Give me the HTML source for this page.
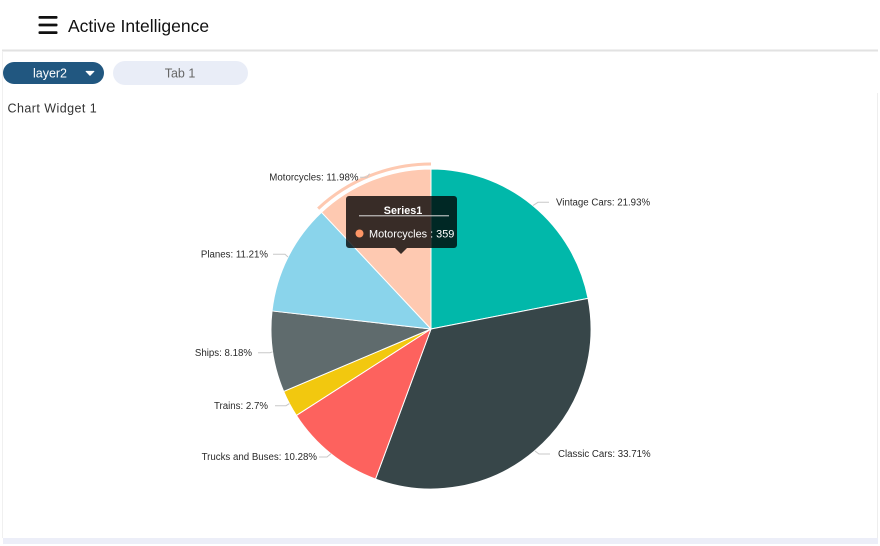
<!DOCTYPE html>
<html><head><meta charset="utf-8"><style>
html,body{margin:0;padding:0;background:#fff;width:880px;height:546px;overflow:hidden;font-family:"Liberation Sans",sans-serif;}
svg{display:block}
</style></head><body>
<svg width="880" height="546" viewBox="0 0 880 546" xmlns="http://www.w3.org/2000/svg" font-family="Liberation Sans, sans-serif">
  <rect width="880" height="546" fill="#fff"/>
  <!-- header -->
  <rect x="38.5" y="16" width="19" height="2.8" rx="1" fill="#111"/>
  <rect x="38.5" y="23.6" width="19" height="2.8" rx="1" fill="#111"/>
  <rect x="38.5" y="31.2" width="19" height="2.8" rx="1" fill="#111"/>
  <text x="68" y="32" font-size="17.5" fill="#111">Active Intelligence</text>
  <rect x="2" y="49.5" width="876" height="2" fill="#e2e2e2"/>
  <!-- widget borders -->
  <rect x="2" y="52" width="1" height="486" fill="#f0f0f0"/>
  <rect x="877" y="93" width="1" height="445" fill="#eeeeee"/>
  <rect x="3" y="538" width="875" height="6" fill="#eceef8"/>
  <!-- tabs -->
  <rect x="3" y="62" width="101" height="22" rx="11" fill="#215780"/>
  <text x="50" y="77.5" font-size="12.5" fill="#fff" text-anchor="middle">layer2</text>
  <path d="M86 71.3 L94 71.3 L90 75.5 Z" fill="#fff" stroke="#fff" stroke-width="0.8" stroke-linejoin="round"/>
  <rect x="113" y="61" width="135" height="24" rx="12" fill="#e9edf7"/>
  <text x="180" y="77.5" font-size="12.5" fill="#666" text-anchor="middle">Tab 1</text>
  <text x="7.5" y="112.3" font-size="12.5" fill="#333" letter-spacing="0.45">Chart Widget 1</text>

  <!-- pie -->
  <g stroke="#fff" stroke-width="1" stroke-linejoin="round">
    <path d="M431 329 L431 169 A160 160 0 0 1 588.03 298.33 Z" fill="#01b8aa"/>
    <path d="M431 329 L588.03 298.33 A160 160 0 0 1 375.49 479.06 Z" fill="#374649"/>
    <path d="M431 329 L375.49 479.06 A160 160 0 0 1 296.36 415.44 Z" fill="#fd625e"/>
    <path d="M431 329 L296.36 415.44 A160 160 0 0 1 283.68 391.44 Z" fill="#f2c80f"/>
    <path d="M431 329 L283.68 391.44 A160 160 0 0 1 272.02 310.94 Z" fill="#5f6b6d"/>
    <path d="M431 329 L272.02 310.94 A160 160 0 0 1 321.56 212.28 Z" fill="#8ad4eb"/>
    <path d="M431 329 L321.56 212.28 A160 160 0 0 1 431 169 Z" fill="#fec9b1"/>
  </g>
  <path d="M318.14 208.64 A165 165 0 0 1 431 164" fill="none" stroke="#fec9b1" stroke-width="3"/>

  <!-- leader lines -->
  <g fill="none" stroke="#c8c8c8" stroke-width="1">
    <polyline points="533,205.5 538,202.3 549,202.3"/>
    <polyline points="535,451 539,454 550,454"/>
    <polyline points="331,453.6 327,457 319,457"/>
    <polyline points="289.4,403.6 286,405.7 275,405.7"/>
    <polyline points="272.6,351.8 270,352.7 258,352.7"/>
    <polyline points="288,257 285,254.3 273,254.3"/>
    <polyline points="369.5,173.7 367,177.3 360,177.3"/>
  </g>
  <g font-size="9.7" fill="#2a2a2a">
    <text x="556" y="205.6">Vintage Cars: 21.93%</text>
    <text x="558" y="456.9">Classic Cars: 33.71%</text>
    <text x="317" y="460.1" text-anchor="end">Trucks and Buses: 10.28%</text>
    <text x="268" y="409" text-anchor="end">Trains: 2.7%</text>
    <text x="252" y="356.1" text-anchor="end">Ships: 8.18%</text>
    <text x="268" y="257.6" text-anchor="end">Planes: 11.21%</text>
    <text x="358.5" y="180.6" text-anchor="end">Motorcycles: 11.98%</text>
  </g>

  <!-- tooltip -->
  <g>
    <path d="M349 196 H454 A3 3 0 0 1 457 199 V245 A3 3 0 0 1 454 248 H407 L401 254 L395 248 H349 A3 3 0 0 1 346 245 V199 A3 3 0 0 1 349 196 Z" fill="rgba(0,0,0,0.78)"/>
    <text x="403" y="213.8" font-size="10.8" font-weight="bold" fill="#fff" text-anchor="middle">Series1</text>
    <rect x="359" y="215.3" width="90" height="1" fill="#ddd"/>
    <circle cx="359.5" cy="233.5" r="4" fill="#fe9666"/>
    <text x="369" y="237.5" font-size="10.9" fill="#fff">Motorcycles : 359</text>
  </g>
</svg>
</body></html>
